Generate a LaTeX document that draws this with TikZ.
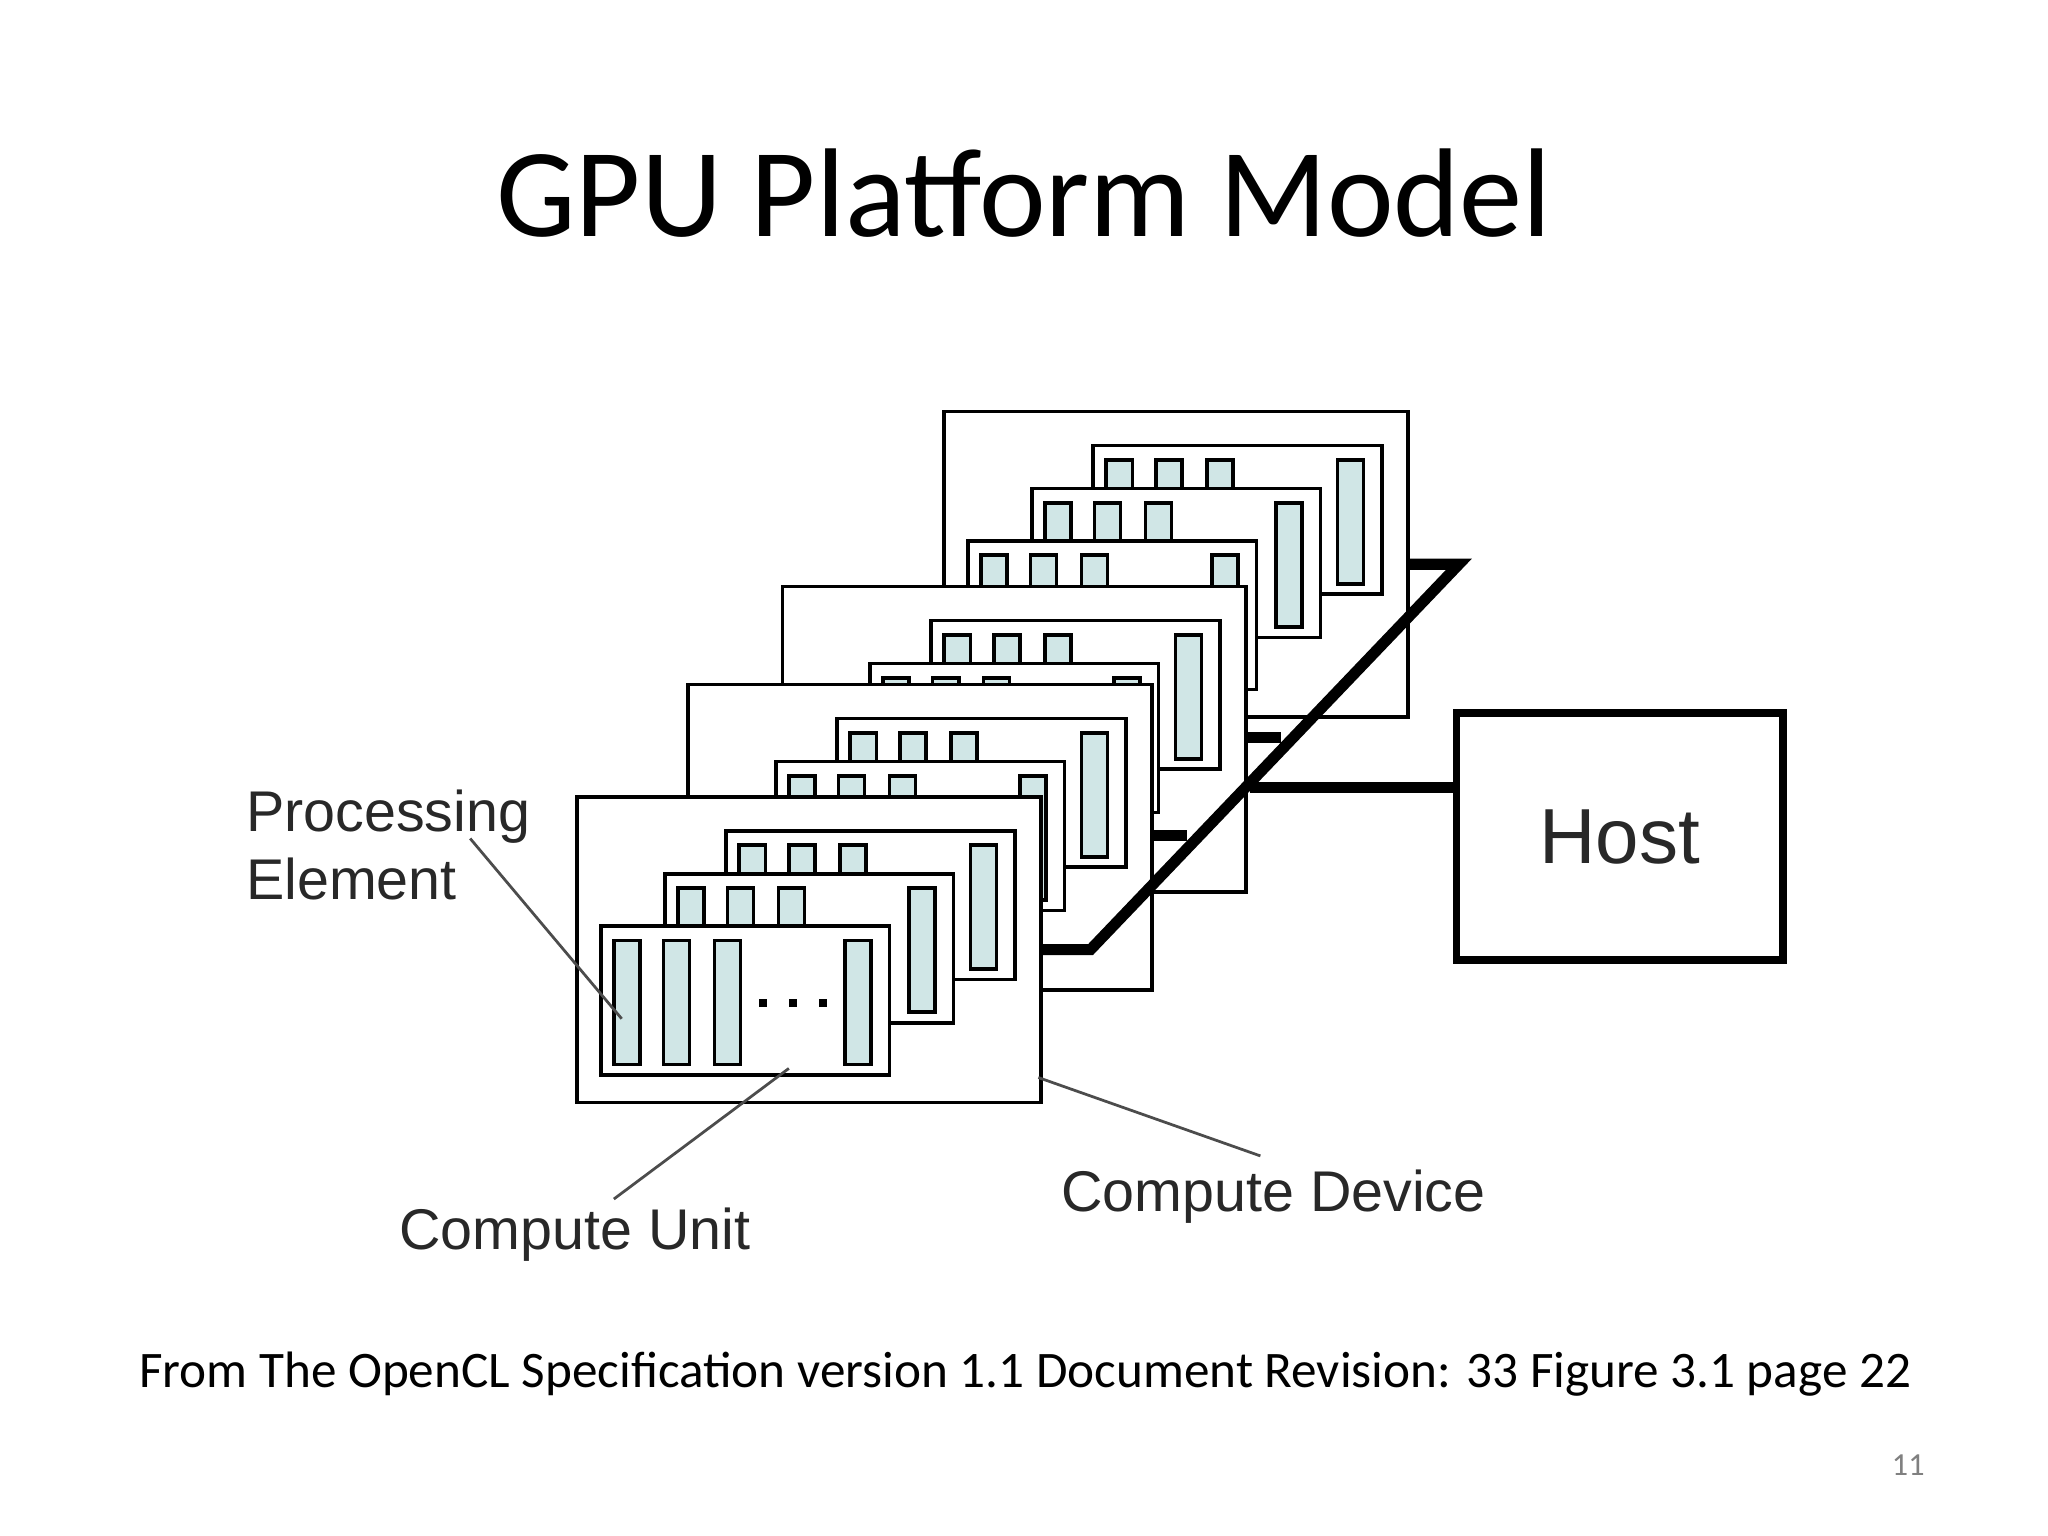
\documentclass[tikz,border=0pt]{standalone}
\usepackage{fontspec}
\setmainfont{Carlito}
\newfontfamily\arialish{Liberation Sans}
\definecolor{pefill}{RGB}{208,230,230}
\definecolor{labelgray}{RGB}{40,40,40}
\newcommand{\cunit}[2]{%
  \begin{scope}[shift={(#1,#2)}]
    \draw[box] (0,0) rectangle (221,114);
    \foreach \b in {10,48,87,187} \draw[bar] (\b,11) rectangle ++(20,95);
    \foreach \d in {121,144,167} \fill (\d,56) rectangle ++(6,6);
  \end{scope}}
\newcommand{\cdevice}[2]{%
  \begin{scope}[shift={(#1,#2)}]
    \draw[box] (0,0) rectangle (355,234);
    \cunit{114}{26}
    \cunit{67}{59}
    \cunit{18}{99}
  \end{scope}}
\begin{document}
\begin{tikzpicture}[x=0.01cm,y=-0.01cm,
  box/.style={draw=black,fill=white,line width=0.8pt},
  bar/.style={draw=black,fill=pefill,line width=0.8pt},
  bus/.style={line width=2.4pt,line join=miter},
  lbl/.style={font=\arialish\fontsize{12.5}{15}\selectfont,text=labelgray,align=left},
  lead/.style={draw=black!70,line width=0.6pt}]
  \useasboundingbox[fill=white] (0,0) rectangle (1568,1176);
  \node[font=\fontsize{27.5}{33}\selectfont] (title) at (784,148) {GPU Platform Model};
  % compute devices, back to front
  \cdevice{723}{315}
  \cdevice{599}{449}
  \cdevice{527}{524}
  \cdevice{442}{610}
  % bus
  \coordinate (b0) at (798,727);
  \coordinate (b1) at (835,727);
  \coordinate (b2) at (1117,432);
  \coordinate (b3) at (1077,432);
  \draw[bus] (b0) -- (b1) -- (b2) -- (b3);
  \draw[bus] (881,640) -- (909,640);
  \draw[bus] (955,565) -- (981,565);
  % host
  \node[draw,line width=1.6pt,inner sep=0pt,
        minimum width=2.5cm,minimum height=1.89cm,
        font=\arialish\fontsize{17}{20}\selectfont,text=labelgray] (host) at (1240,640.5) {Host};
  \coordinate (hb) at (957,603);
  \draw[bus] (hb) -- (host.west |- hb);
  % labels
  \node[lbl,anchor=north west] (pe) at (176,592) {Processing\\Element};
  \node[lbl] (cu) at (440,945) {Compute Unit};
  \node[lbl] (cd) at (975,916) {Compute Device};
  \coordinate (pe1) at (360,642);
  \coordinate (pe2) at (476,780);
  \coordinate (cu1) at (470,918);
  \coordinate (cu2) at (604,818);
  \coordinate (cd1) at (965,885);
  \coordinate (cd2) at (795,825);
  \draw[lead] (pe1) -- (pe2);
  \draw[lead] (cu1) -- (cu2);
  \draw[lead] (cd1) -- (cd2);
  \node[font=\fontsize{11.15}{13}\selectfont] (src) at (785,1052)
    {From The OpenCL Specification version 1.1 Document Revision: 33 Figure 3.1 page 22};
  \node[font=\fontsize{7}{8}\selectfont,text=black!50] (pg) at (1461,1122) {11};
\end{tikzpicture}
\end{document}
